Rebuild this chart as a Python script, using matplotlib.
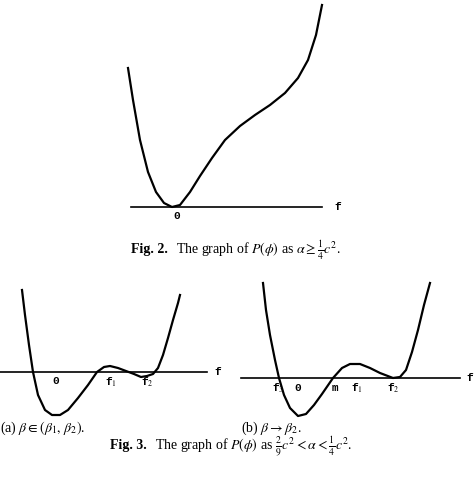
import matplotlib.pyplot as plt

plt.rcParams["mathtext.fontset"] = "stix"

# curve samples (pixel coordinates, y downwards)
fig2_x = [128, 133, 140, 148, 156, 164, 172, 180, 190, 200, 212, 225, 240, 255, 270, 285, 298, 308, 316, 322]
fig2_y = [68, 100, 140, 172, 192, 203, 207, 205, 192, 176, 158, 140, 126, 115, 105, 93, 78, 60, 35, 5]

fig3a_x = [22, 25, 29, 33, 38, 45, 52, 60, 68, 78, 88, 97, 104, 110, 118, 126, 134, 141, 147, 153, 158, 163, 168, 173, 178, 180]
fig3a_y = [290, 315, 345, 372, 395, 410, 415, 415, 410, 398, 385, 372, 367, 366, 368, 371, 374, 377, 376, 374, 368, 355, 338, 320, 303, 295]

fig3b_x = [263, 266, 270, 275, 279, 284, 290, 298, 306, 314, 322, 333, 342, 350, 360, 370, 380, 393, 400, 406, 412, 418, 424, 430]
fig3b_y = [283, 310, 335, 360, 378, 395, 408, 416, 414, 405, 394, 378, 368, 364, 364, 368, 373, 378, 377, 370, 352, 330, 305, 283]

axis_lines = [((131, 322), 207), ((0, 207), 372), ((241, 460), 378)]

tick_labels = [("0", 177, 216), ("f", 338, 207),
               ("0", 56, 381), ("f$_1$", 111, 382), ("f$_2$", 147, 382), ("f", 218, 372),
               ("f$_3$", 278, 388), ("0", 298, 388), ("m", 335, 388),
               ("f$_1$", 357, 388), ("f$_2$", 393, 388), ("f", 470, 378)]

fig = plt.figure(figsize=(4.74, 4.79), dpi=100)
ax = fig.add_axes([0, 0, 1, 1])
ax.set_xlim(0, 474)
ax.set_ylim(479, 0)
ax.axis("off")

for (x0, x1), y in axis_lines:
    ax.plot([x0, x1], [y, y], color="black", lw=1.2)
for xs, ys in [(fig2_x, fig2_y), (fig3a_x, fig3a_y), (fig3b_x, fig3b_y)]:
    ax.plot(xs, ys, color="black", lw=1.6, solid_joinstyle="round")

for s, x, y in tick_labels:
    ax.text(x, y, s, ha="center", va="center", fontsize=8, fontweight="bold",
            family="Liberation Mono")

serif = dict(family="Liberation Serif", fontsize=10, va="center")
ax.text(168, 250, "Fig. 2.", ha="right", fontweight="bold", **serif)
ax.text(176, 250, r"The graph of $P(\phi)$ as $\alpha \geq \frac{1}{4}c^2$.", ha="left", **serif)
ax.text(0, 428, r"(a) $\beta \in (\beta_1,\, \beta_2)$.", ha="left", **serif)
ax.text(241, 428, r"(b) $\beta \rightarrow \beta_2$.", ha="left", **serif)
ax.text(147, 446, "Fig. 3.", ha="right", fontweight="bold", **serif)
ax.text(155, 446, r"The graph of $P(\phi)$ as $\frac{2}{9}c^2 < \alpha < \frac{1}{4}c^2$.", ha="left", **serif)

fig.savefig("out.png", dpi=100)
